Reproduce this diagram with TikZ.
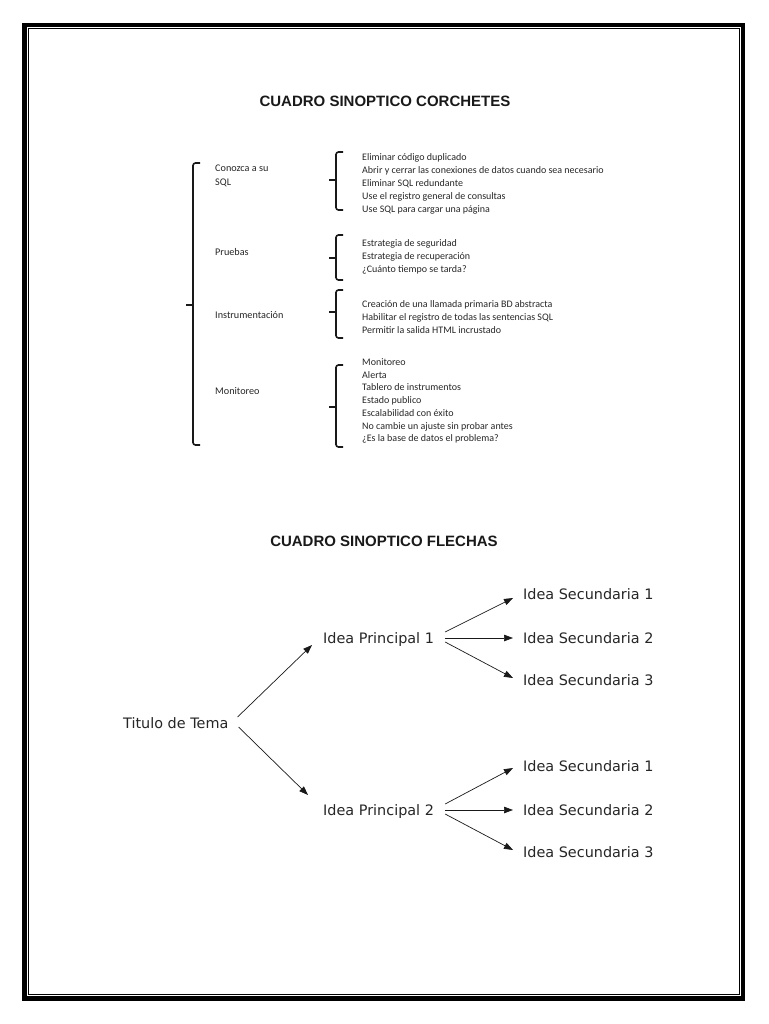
\documentclass[tikz,border=0pt]{standalone}
\usepackage{fontspec}
\setmainfont{Carlito}
\newfontfamily\titlefont{Liberation Sans}
\newfontfamily\arrfont{DejaVu Sans}
\usetikzlibrary{arrows.meta}
\newcommand\mybrk[5]{% x, top, bottom, tip y, tip length
  \draw[brk] (#1+7,#2) -- (#1,#2) -- (#1,#3) -- (#1+7,#3);
  \draw[brktip] (#1,#4) -- (#1-#5,#4);}
\begin{document}
\begin{tikzpicture}[x=1pt,y=-1pt,
  ttl/.style={font=\titlefont\bfseries\fontsize{15}{17}\selectfont, inner sep=0, text=black!90},
  cat/.style={anchor=west, font=\fontsize{10.2}{14}\selectfont, inner sep=0, text=black!85, align=left},
  item/.style={anchor=west, font=\fontsize{10}{11}\selectfont, inner sep=0, text=black!85, text height=7pt, text depth=2pt},
  brk/.style={line width=1.6pt, rounded corners=2.5pt, black!90},
  brktip/.style={line width=1.6pt, black!90},
  idea/.style={font=\arrfont\fontsize{14.4}{16}\selectfont, inner sep=0, anchor=west, text=black!85, text height=10pt, text depth=3pt},
  arr/.style={line width=0.7pt, black!90, -{Triangle[length=9pt,width=6.5pt]}}]
\useasboundingbox (0,0) rectangle (768,1024);
% page border
\draw[line width=4.4pt] (24.5,25.2) rectangle (743.2,998.3);
\draw[line width=1.2pt] (28.4,28.7) rectangle (739.8,994.4);
% titles
\node[ttl] (t1) at (385,101) {CUADRO SINOPTICO CORCHETES};
\node[ttl] (t2) at (384,541) {CUADRO SINOPTICO FLECHAS};
% brackets
\mybrk{193}{163}{445}{305}{7}
\mybrk{336}{152}{210}{180}{7}
\mybrk{336}{235}{280}{258}{7}
\mybrk{336}{290}{338}{312}{7}
\mybrk{336}{365}{447}{407}{7}
% categories
\node[cat] (c1) at (215,176) {Conozca a su\\SQL};
\node[cat] (c2) at (215,252) {Pruebas};
\node[cat] (c3) at (215,315) {Instrumentación};
\node[cat] (c4) at (215,391) {Monitoreo};
% items
\node[item] (a1) at (362,158) {Eliminar código duplicado};
\node[item] (a2) at (362,171) {Abrir y cerrar las conexiones de datos cuando sea necesario};
\node[item] (a3) at (362,184) {Eliminar SQL redundante};
\node[item] (a4) at (362,197) {Use el registro general de consultas};
\node[item] (a5) at (362,210) {Use SQL para cargar una página};
\node[item] (b1) at (362,244) {Estrategia de seguridad};
\node[item] (b2) at (362,257) {Estrategia de recuperación};
\node[item] (b3) at (362,270) {¿Cuánto tiempo se tarda?};
\node[item] (d1) at (362,305) {Creación de una llamada primaria BD abstracta};
\node[item] (d2) at (362,318) {Habilitar el registro de todas las sentencias SQL};
\node[item] (d3) at (362,331) {Permitir la salida HTML incrustado};
\node[item] (e1) at (362,363) {Monitoreo};
\node[item] (e2) at (362,376) {Alerta};
\node[item] (e3) at (362,388) {Tablero de instrumentos};
\node[item] (e4) at (362,401) {Estado publico};
\node[item] (e5) at (362,414) {Escalabilidad con éxito};
\node[item] (e6) at (362,427) {No cambie un ajuste sin probar antes};
\node[item] (e7) at (362,439) {¿Es la base de datos el problema?};
% arrow diagram
\node[idea] (tema) at (123,725) {Titulo de Tema};
\node[idea] (ip1) at (323,640) {Idea Principal 1};
\node[idea] (ip2) at (323,812) {Idea Principal 2};
\node[idea] (s11) at (523,596) {Idea Secundaria 1};
\node[idea] (s12) at (523,640) {Idea Secundaria 2};
\node[idea] (s13) at (523,682) {Idea Secundaria 3};
\node[idea] (s21) at (523,768) {Idea Secundaria 1};
\node[idea] (s22) at (523,812) {Idea Secundaria 2};
\node[idea] (s23) at (523,854) {Idea Secundaria 3};
\draw[arr] ([xshift=9pt,yshift=8pt]tema.east) -- ([xshift=-11pt,yshift=-5pt]ip1.west);
\draw[arr] ([xshift=10pt,yshift=-2pt]tema.east) -- ([xshift=-15pt,yshift=17pt]ip2.west);
\draw[arr] ([xshift=11pt,yshift=8pt]ip1.east) -- ([xshift=-10pt,yshift=-2pt]s11.west);
\draw[arr] ([xshift=11pt,yshift=2pt]ip1.east) -- ([xshift=-10pt,yshift=2pt]s12.west);
\draw[arr] ([xshift=11pt,yshift=-2pt]ip1.east) -- ([xshift=-10pt,yshift=4pt]s13.west);
\draw[arr] ([xshift=11pt,yshift=8pt]ip2.east) -- ([xshift=-10pt]s21.west);
\draw[arr] ([xshift=11pt,yshift=2pt]ip2.east) -- ([xshift=-10pt,yshift=2pt]s22.west);
\draw[arr] ([xshift=11pt,yshift=-2pt]ip2.east) -- ([xshift=-10pt,yshift=4pt]s23.west);
\end{tikzpicture}
\end{document}
